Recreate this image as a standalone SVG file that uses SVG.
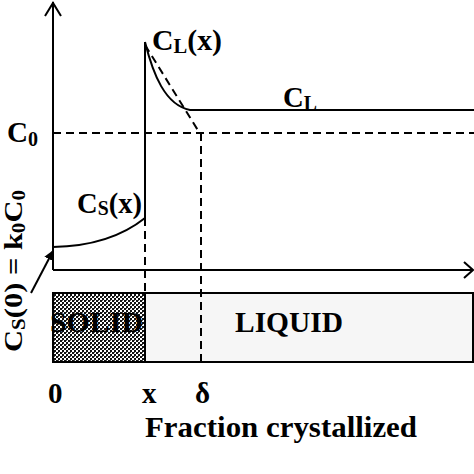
<svg xmlns="http://www.w3.org/2000/svg" width="474" height="474" viewBox="0 0 474 474">
<style>
text{font-family:"Liberation Serif","Times New Roman",serif;font-weight:bold;fill:#000}
.ln{fill:none;stroke:#000;stroke-width:2}
.ds{fill:none;stroke:#000;stroke-width:2;stroke-dasharray:8,5}
.lbl{font-size:29px}
.sub{font-size:20px}
</style>
<defs>
<pattern id="chk" width="4" height="4" patternUnits="userSpaceOnUse">
<rect width="4" height="4" fill="#fff"/>
<rect x="0" y="0" width="2" height="2" fill="#111"/>
<rect x="2" y="2" width="2" height="2" fill="#111"/>
<rect x="2" y="0" width="1" height="1" fill="#555"/>
</pattern>
<marker id="tri" viewBox="0 0 10 10" refX="9" refY="5" markerWidth="5" markerHeight="5" orient="auto" markerUnits="strokeWidth">
<path d="M0,0 L10,5 L0,10 Z" fill="#000"/>
</marker>
</defs>
<rect width="474" height="474" fill="#fff"/>

<g id="axes">
<line class="ln" x1="53" y1="2" x2="53" y2="270"/>
<polyline class="ln" points="45,16 53,3 61,16"/>
<line class="ln" x1="53" y1="270" x2="473" y2="270"/>
<polyline class="ln" points="464,262 473,270 464,278"/>
</g>

<g id="bar">
<rect id="solid" x="53" y="293" width="92" height="69" fill="url(#chk)"/>
<rect id="liquid" x="145" y="293" width="328" height="69" fill="#f6f6f6"/>
<rect class="ln" x="53" y="293" width="420" height="69"/>
<line class="ln" x1="145" y1="293" x2="145" y2="362"/>
<text x="50" y="332" font-size="30" textLength="93" lengthAdjust="spacingAndGlyphs">SOLID</text>
<text x="235" y="332" font-size="30" textLength="108" lengthAdjust="spacingAndGlyphs">LIQUID</text>
</g>

<g id="connectors">
<line class="ds" x1="53" y1="133" x2="474" y2="133"/>
<line class="ds" x1="145" y1="218" x2="145" y2="293"/>
<line class="ds" x1="201" y1="133" x2="201" y2="362"/>
<line class="ds" x1="145" y1="45" x2="199" y2="132"/>
<line class="ln" x1="145" y1="42" x2="145" y2="219"/>
<path class="ln" d="M145,42 C153,74 165,105 190,110 L474,110"/>
<path class="ln" d="M53,247 Q110,246 145,218"/>
<line class="ln" x1="31" y1="293" x2="53" y2="251" marker-end="url(#tri)"/>
</g>

<g id="labels">
<text class="lbl" x="7" y="142" textLength="31" lengthAdjust="spacingAndGlyphs">C<tspan class="sub" dy="4">0</tspan></text>
<text class="lbl" x="152" y="50" textLength="70" lengthAdjust="spacingAndGlyphs">C<tspan class="sub" dy="3">L</tspan><tspan dy="-3">(x)</tspan></text>
<text class="lbl" x="283" y="107" textLength="34" lengthAdjust="spacingAndGlyphs">C<tspan class="sub" dy="3">L</tspan></text>
<text class="lbl" x="77" y="213" textLength="65" lengthAdjust="spacingAndGlyphs">C<tspan class="sub" dy="2">S</tspan><tspan dy="-2">(x)</tspan></text>
<text transform="translate(22,352) rotate(-90)" font-size="26" textLength="162" lengthAdjust="spacingAndGlyphs">C<tspan font-size="18" dy="3">S</tspan><tspan dy="-3">(0) = k</tspan><tspan font-size="18" dy="3">0</tspan><tspan dy="-3">C</tspan><tspan font-size="18" dy="3">0</tspan></text>
<text class="lbl" x="48" y="403">0</text>
<text class="lbl" x="142" y="403">x</text>
<text class="lbl" x="195" y="403">δ</text>
<text x="145" y="437" font-size="29" textLength="272" lengthAdjust="spacingAndGlyphs">Fraction crystallized</text>
</g>
</svg>
